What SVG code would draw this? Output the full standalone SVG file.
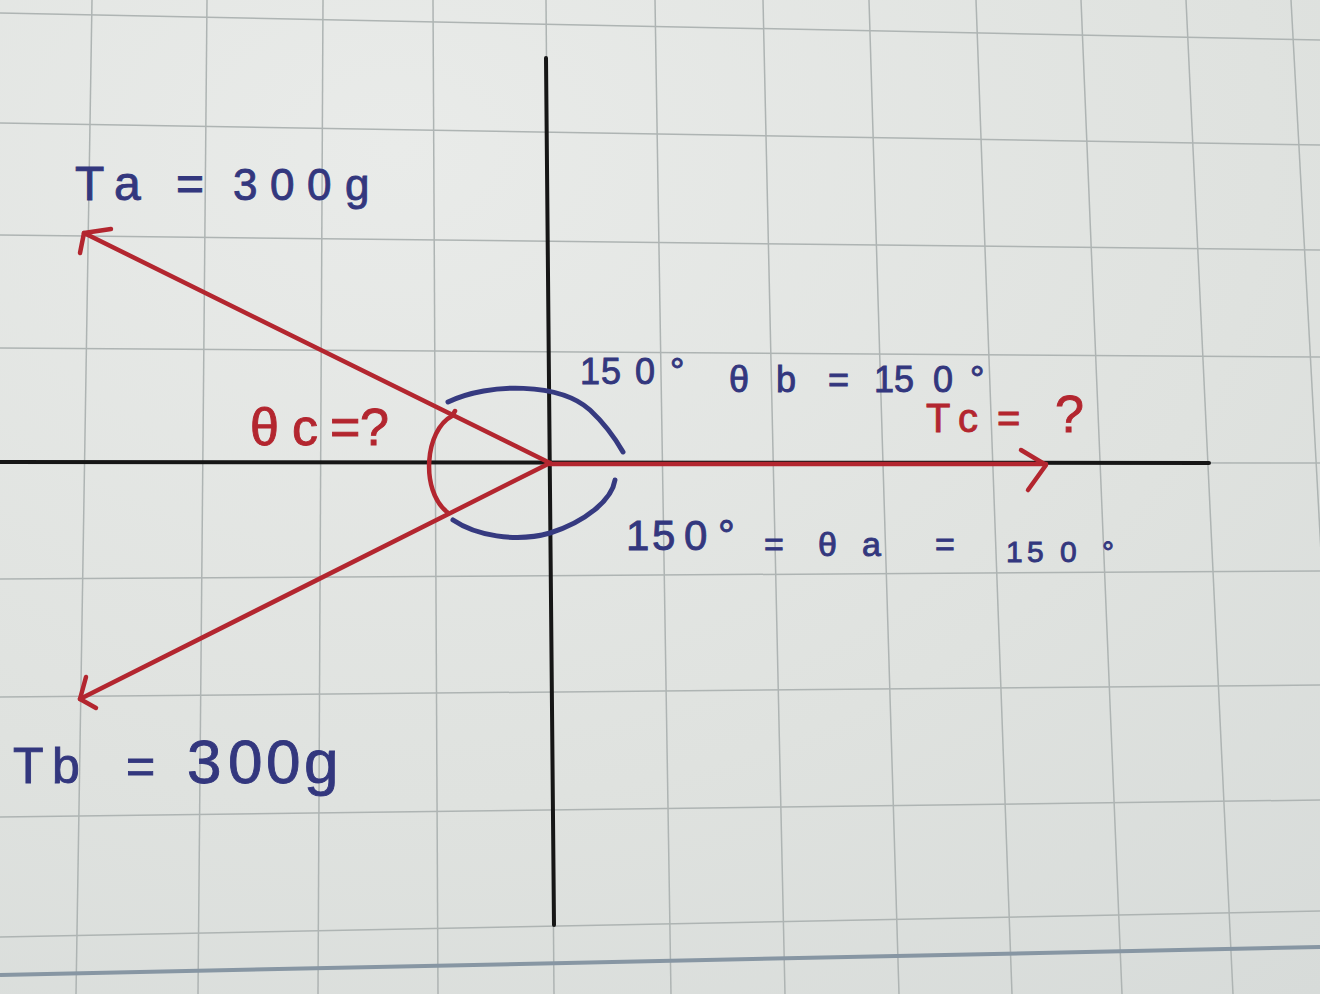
<svg xmlns="http://www.w3.org/2000/svg" width="1320" height="994" viewBox="0 0 1320 994">
  <defs>
    <radialGradient id="paper" cx="0.3" cy="0.15" r="1.1">
      <stop offset="0" stop-color="#e9ebe9"/>
      <stop offset="0.6" stop-color="#dfe2df"/>
      <stop offset="1" stop-color="#d7dbd9"/>
    </radialGradient>
    <style>
      .grid { stroke: #aeb4b3; stroke-width: 1.5; fill: none; }
      .edge { stroke: #8796a3; stroke-width: 4; fill: none; }
      .axis { stroke: #161616; stroke-width: 4; fill: none; stroke-linecap: round; }
      .red { stroke: #b3262f; stroke-width: 4.5; fill: none; stroke-linecap: round; stroke-linejoin: round; }
      .blue { stroke: #363a80; stroke-width: 5; fill: none; stroke-linecap: round; }
      .tb { fill: #33377e; stroke: #33377e; stroke-width: 0.9; font-family: "Liberation Sans", "Noto Sans", sans-serif; }
      .tr { fill: #b3262f; stroke: #b3262f; stroke-width: 0.9; font-family: "Liberation Sans", "Noto Sans", sans-serif; }
    </style>
  </defs>

  <rect width="1320" height="994" fill="url(#paper)"/>

  <g id="grid">
    <line class="grid" x1="92" y1="0" x2="76" y2="994"/>
    <line class="grid" x1="207" y1="0" x2="198" y2="994"/>
    <line class="grid" x1="323" y1="0" x2="318" y2="994"/>
    <line class="grid" x1="433" y1="0" x2="438" y2="994"/>
    <line class="grid" x1="546" y1="0" x2="554" y2="994"/>
    <line class="grid" x1="655" y1="0" x2="671" y2="994"/>
    <line class="grid" x1="763" y1="0" x2="785" y2="994"/>
    <line class="grid" x1="869" y1="0" x2="899" y2="994"/>
    <line class="grid" x1="976" y1="0" x2="1012" y2="994"/>
    <line class="grid" x1="1081" y1="0" x2="1122" y2="994"/>
    <line class="grid" x1="1186" y1="0" x2="1233" y2="994"/>
    <line class="grid" x1="1291" y1="0" x2="1345" y2="994"/>
    <line class="grid" x1="0" y1="13" x2="1320" y2="40"/>
    <line class="grid" x1="0" y1="123" x2="1320" y2="145"/>
    <line class="grid" x1="0" y1="235" x2="1320" y2="250"/>
    <line class="grid" x1="0" y1="348" x2="1320" y2="357"/>
    <line class="grid" x1="0" y1="462" x2="1320" y2="463"/>
    <line class="grid" x1="0" y1="579" x2="1320" y2="571"/>
    <line class="grid" x1="0" y1="697" x2="1320" y2="685"/>
    <line class="grid" x1="0" y1="817" x2="1320" y2="800"/>
    <line class="grid" x1="0" y1="937" x2="1320" y2="911"/>
    <line class="edge" x1="0" y1="975" x2="1320" y2="947"/>
  </g>

  <g id="axes">
    <line class="axis" x1="546" y1="58" x2="554" y2="925"/>
    <line class="axis" x1="0" y1="462" x2="1209" y2="463"/>
  </g>

  <g id="connectors">
    <g id="vector-Ta">
      <line class="red" x1="550" y1="463" x2="84" y2="233"/>
      <path class="red" d="M80,253 L84,233 L111,229"/>
    </g>
    <g id="vector-Tb">
      <line class="red" x1="550" y1="463" x2="80" y2="699"/>
      <path class="red" d="M86,677 L80,699 L96,708"/>
    </g>
    <g id="vector-Tc">
      <line class="red" x1="550" y1="464" x2="1046" y2="464"/>
      <path class="red" d="M1021,450 L1046,465 L1028,490"/>
    </g>
    <g id="angle-arcs">
      <path class="red" d="M455,411 L452,416 C425,430 420,490 447,512"/>
      <path class="blue" d="M448,402 C490,382 560,383 590,410 C605,424 615,438 623,452"/>
      <path class="blue" d="M615,480 C612,500 585,522 550,533 C515,543 475,535 453,520"/>
    </g>
  </g>

  <g id="label-Ta">
    <text class="tb" y="200"><tspan font-size="48" x="75 114 150 176 205">Ta = </tspan><tspan font-size="44" x="233 270 307 345">300g</tspan></text>
  </g>
  <g id="label-Tb">
    <text class="tb" y="783"><tspan font-size="50" x="13 52 126 160">Tb= </tspan><tspan font-size="62" x="187 228 266 304">300g</tspan></text>
  </g>
  <g id="label-theta-c">
    <text class="tr" y="445" font-size="52" x="250 292 330 360">θc=?</text>
  </g>
  <g id="label-150-upper">
    <text class="tb" y="384" font-size="36" x="580 601 635 670">150°</text>
  </g>
  <g id="label-theta-b">
    <text class="tb" y="392" font-size="36" x="729 776 812 828 852 874 894 933 970">θb = 150°</text>
  </g>
  <g id="label-Tc">
    <text class="tr" y="432"><tspan font-size="40" x="926 958 997 1030">Tc= </tspan><tspan font-size="52" x="1055">?</tspan></text>
  </g>
  <g id="label-theta-a">
    <text class="tb"><tspan y="550" font-size="42" x="626 652 684 718">150°</tspan><tspan y="556" font-size="34" x="764 800 818 862 910 935 962">= θa = </tspan><tspan y="562" font-size="30" x="1006 1027 1060 1102">150°</tspan></text>
  </g>
</svg>
